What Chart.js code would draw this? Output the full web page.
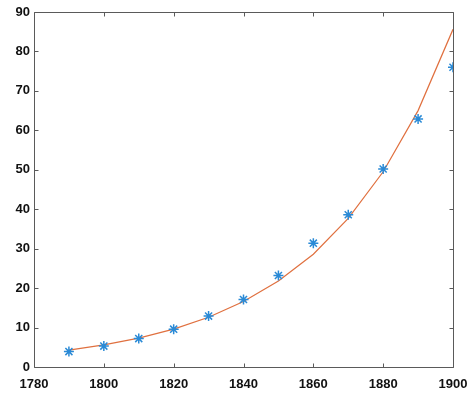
<!DOCTYPE html>
<html><head><meta charset="utf-8">
<script src="https://cdn.jsdelivr.net/npm/chart.js@4/dist/chart.umd.min.js"></script>
<style>html,body{margin:0;padding:0;background:#fff}#wrap{width:474px;height:393px}</style>
</head><body><div id="wrap"><canvas id="c" width="474" height="393"></canvas></div>
<script>
const years = [1790,1800,1810,1820,1830,1840,1850,1860,1870,1880,1890,1900];
const population = [3.9,5.3,7.2,9.6,12.9,17.1,23.2,31.4,38.6,50.2,62.9,76.0];
const fitted = [4.3,5.6,7.3,9.6,12.6,16.6,21.8,28.6,37.7,49.5,65.0,85.6];
const xTicks = [1780,1800,1820,1840,1860,1880,1900];
const yTicks = [0,10,20,30,40,50,60,70,80,90];

const boxTicks = {
  id:'boxTicks',
  afterDatasetsDraw(chart){
    const {ctx, chartArea:a, scales:{x,y}} = chart;
    ctx.save();
    ctx.strokeStyle='#5a5a5a'; ctx.lineWidth=1;
    const L=Math.round(a.left)+0.5, R=Math.round(a.right)+0.5, T=Math.round(a.top)+0.5, B=Math.round(a.bottom)+0.5;
    ctx.beginPath();
    ctx.rect(L,T,R-L,B-T);
    const tl=4;
    xTicks.forEach(v=>{const px=Math.round(x.getPixelForValue(v))+0.5;ctx.moveTo(px,B);ctx.lineTo(px,B-tl);ctx.moveTo(px,T);ctx.lineTo(px,T+tl);});
    yTicks.forEach(v=>{const py=Math.round(y.getPixelForValue(v))+0.5;ctx.moveTo(L,py);ctx.lineTo(L+tl,py);ctx.moveTo(R,py);ctx.lineTo(R-tl,py);});
    ctx.stroke();
    ctx.restore();
  }
};

const tickFont = {family:'Liberation Sans',size:13,weight:'bold'};

new Chart(document.getElementById('c'),{
  type:'scatter',
  data:{datasets:[
    {data:years.map((v,i)=>({x:v,y:population[i]})),pointStyle:'star',pointRadius:5,pointBorderColor:'#2a8ad6',pointBackgroundColor:'#2a8ad6',pointBorderWidth:1.5,showLine:false,order:0},
    {data:years.map((v,i)=>({x:v,y:fitted[i]})),showLine:true,borderColor:'#e0703f',borderWidth:1.2,pointRadius:0,tension:0,order:1}
  ]},
  options:{
    responsive:false,animation:false,
    layout:{padding:{top:12,right:21,left:0,bottom:0}},
    plugins:{legend:{display:false},tooltip:{enabled:false}},
    scales:{
      x:{type:'linear',min:1780,max:1900,
        afterBuildTicks(s){s.ticks=xTicks.map(v=>({value:v}));},
        afterFit(s){s.height=26;s.paddingLeft=0;s.paddingRight=0;},
        grid:{display:false,drawTicks:false},border:{display:false},
        ticks:{color:'#111',padding:10,maxRotation:0,autoSkip:false,font:tickFont,callback:v=>String(v)}},
      y:{min:0,max:90,
        afterBuildTicks(s){s.ticks=yTicks.map(v=>({value:v}));},
        afterFit(s){s.width=34;s.paddingTop=0;s.paddingBottom=0;},
        grid:{display:false,drawTicks:false},border:{display:false},
        ticks:{color:'#111',padding:4,autoSkip:false,font:tickFont}}
    }
  },
  plugins:[boxTicks]
});
</script></body></html>
